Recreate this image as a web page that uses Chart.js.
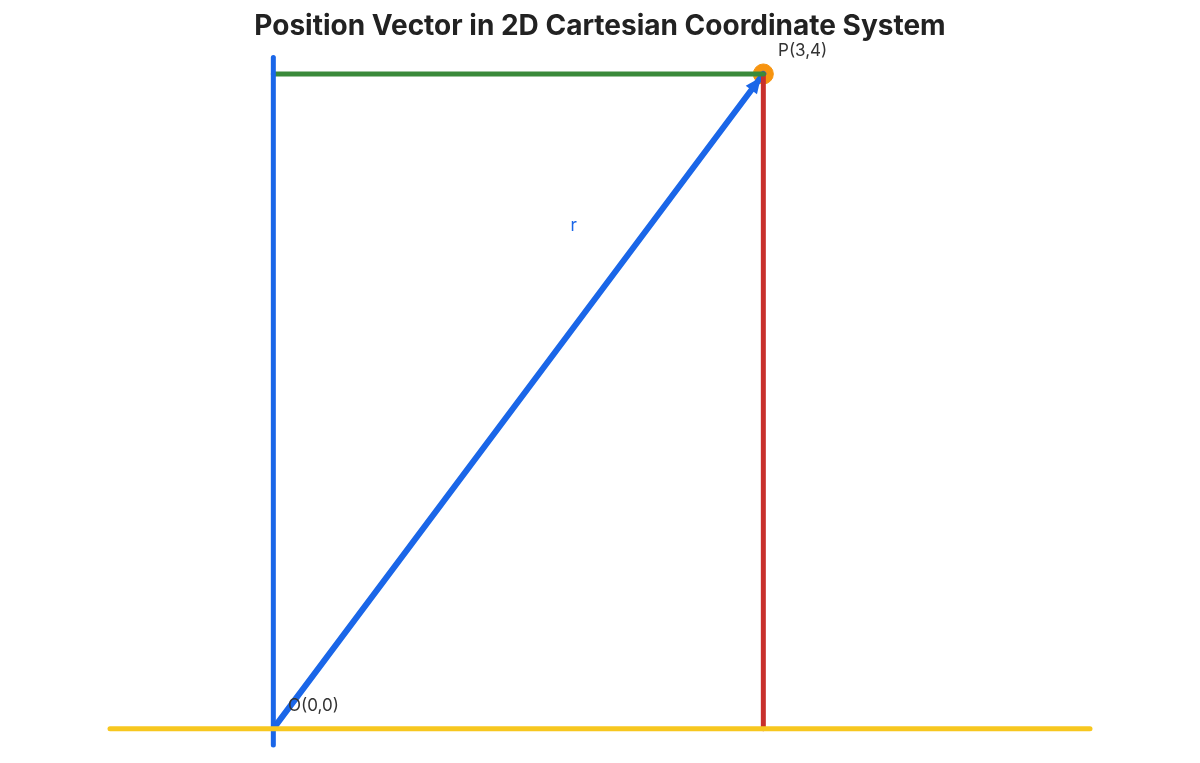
<!DOCTYPE html>
<html><head><meta charset="utf-8">
<script src="https://cdn.jsdelivr.net/npm/chart.js@4"></script>
<style>html,body{margin:0;padding:0;background:#fff}#w{width:1200px;height:763px}</style>
</head><body><div id="w"><canvas id="c"></canvas></div>
<script>
const xAxisLine = [{x:-1,y:0},{x:5,y:0}];
const yAxisLine = [{x:0,y:-0.1},{x:0,y:4.1}];
const xComponent = [{x:0,y:4},{x:3,y:4}];
const yComponent = [{x:3,y:0},{x:3,y:4}];
const vectorR = [{x:0,y:0},{x:3,y:4}];
const pointP = [{x:3,y:4}];
const labels = [
  {text:'P(3,4)', x:3.09, y:4.14, color:'#333'},
  {text:'O(0,0)', x:0.09, y:0.14, color:'#333'},
  {text:'r', x:1.82, y:3.07, color:'#1a66e8'}
];
const font = "Inter, 'Open Sans', sans-serif";
const extras = {
  id:'extras',
  afterDatasetsDraw(chart){
    const {ctx, scales:{x,y}} = chart;
    ctx.save();
    const a = vectorR[0], b = vectorR[1];
    const x1=x.getPixelForValue(a.x), y1=y.getPixelForValue(a.y);
    const x2=x.getPixelForValue(b.x), y2=y.getPixelForValue(b.y);
    const ang=Math.atan2(y2-y1,x2-x1);
    const tx=x2-Math.cos(ang)*4, ty=y2-Math.sin(ang)*4, L=16, W=7;
    ctx.fillStyle='#1a66e8';
    ctx.beginPath();
    ctx.moveTo(tx,ty);
    ctx.lineTo(tx-L*Math.cos(ang)+W*Math.sin(ang), ty-L*Math.sin(ang)-W*Math.cos(ang));
    ctx.lineTo(tx-L*Math.cos(ang)-W*Math.sin(ang), ty-L*Math.sin(ang)+W*Math.cos(ang));
    ctx.closePath(); ctx.fill();
    ctx.font='17px '+font; ctx.textBaseline='middle'; ctx.textAlign='left';
    labels.forEach(l=>{ctx.fillStyle=l.color;ctx.fillText(l.text,x.getPixelForValue(l.x),y.getPixelForValue(l.y));});
    ctx.restore();
  }
};
const ds=(data,color,w)=>({data,borderColor:color,borderWidth:w,borderCapStyle:'round',pointRadius:0,showLine:true,fill:false,clip:false});
new Chart(document.getElementById('c'),{
  type:'scatter',
  data:{datasets:[
    ds(xAxisLine,'#f7c71f',5),
    ds(yAxisLine,'#1a66e8',5),
    ds(xComponent,'#3a8a3a',5),
    ds(yComponent,'#c8302c',5),
    ds(vectorR,'#1a66e8',6),
    {data:pointP,backgroundColor:'#f7940f',borderColor:'#f7940f',pointRadius:10,showLine:false,clip:false}
  ]},
  options:{
    responsive:true,maintainAspectRatio:false,animation:false,
    layout:{padding:{left:110,right:110,top:0,bottom:18}},
    plugins:{legend:{display:false},tooltip:{enabled:false},
      title:{display:true,text:'Position Vector in 2D Cartesian Coordinate System',color:'#222',
        font:{family:font,size:28,weight:'bold'},padding:{top:10,bottom:14}}},
    scales:{x:{type:'linear',min:-1,max:5,display:false},y:{type:'linear',min:-0.1,max:4.1,display:false}}
  },
  plugins:[extras]
});
</script></body></html>
